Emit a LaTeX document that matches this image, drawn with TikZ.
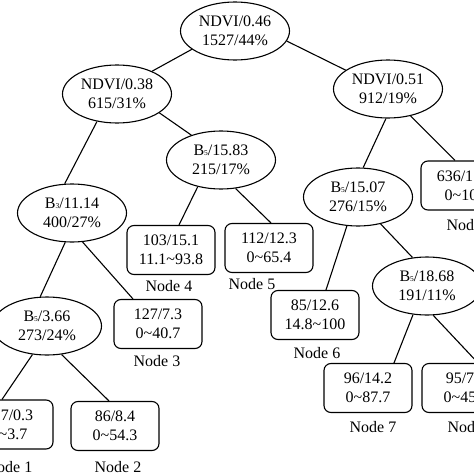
\documentclass[tikz,border=0pt]{standalone}
\usepackage{fontspec}
\setmainfont{Liberation Serif}
\usetikzlibrary{shapes.geometric}
\newcommand{\Bsb}[1]{B\raisebox{0.3pt}{\fontsize{7.5}{7.5}\selectfont #1}}
\newcommand{\tld}{\textasciitilde}
\begin{document}
\begin{tikzpicture}[x=1pt,y=-1pt,
  txt/.style={font=\fontsize{16}{19}\selectfont},
  split/.style={txt, ellipse, draw, line width=1.1pt, minimum width=109pt, minimum height=58pt, inner sep=0pt, align=center},
  leaf/.style={txt, rectangle, rounded corners=7pt, draw, line width=1.1pt, minimum width=88pt, minimum height=49pt, inner sep=0pt, align=center},
  lab/.style={txt, inner sep=0pt},
  conn/.style={line width=1.1pt}]
\useasboundingbox (0,0) rectangle (474,474);
\clip (0,0) rectangle (474,474);
\fill[white] (0,0) rectangle (474,474);
% split nodes
\node[split] (root)  at (235,31)  {NDVI/0.46\\1527/44\%};
\node[split] (n038)  at (117,94)  {NDVI/0.38\\615/31\%};
\node[split] (n051)  at (388,89)  {NDVI/0.51\\912/19\%};
\node[split] (b1583) at (221,160) {\Bsb{5}/15.83\\215/17\%};
\node[split] (b1114) at (72,213)  {\Bsb{3}/11.14\\400/27\%};
\node[split] (b1507) at (358,197) {\Bsb{5}/15.07\\276/15\%};
\node[split] (b1868) at (427,286) {\Bsb{5}/18.68\\191/11\%};
\node[split] (b366)  at (47,326)  {\Bsb{5}/3.66\\273/24\%};
% leaves
\node[leaf] (n4) at (171,250) {103/15.1\\11.1\tld93.8};
\node[leaf] (n5) at (269,248) {112/12.3\\0\tld65.4};
\node[leaf] (n9) at (465,185.5) {636/1\hphantom{5.8}\\0\tld10\hphantom{0}};
\node[leaf] (n6) at (315,315) {85/12.6\\14.8\tld100};
\node[leaf] (n3) at (158,324) {127/7.3\\0\tld40.7};
\node[leaf] (n1) at (9,424.5) {\hphantom{18}7/0.3\\\hphantom{0}\tld3.7};
\node[leaf] (n2) at (115,426) {86/8.4\\0\tld54.3};
\node[leaf] (n7) at (368,388) {96/14.2\\0\tld87.7};
\node[leaf] (n8) at (466,388) {95/7\hphantom{.8}\\0\tld45\hphantom{.8}};
% labels
\node[lab] (l4) at (169,286) {Node 4};
\node[lab] (l5) at (252,284) {Node 5};
\node[lab] (l9) at (470,225) {Node 9};
\node[lab] (l6) at (317,353) {Node 6};
\node[lab] (l3) at (157,361) {Node 3};
\node[lab] (l1) at (9,467)   {Node 1};
\node[lab] (l2) at (118,467) {Node 2};
\node[lab] (l7) at (373,427) {Node 7};
\node[lab] (l8) at (471,427) {Node 8};
% connectors
\draw[conn] (root.203) -- (n038.33);
\draw[conn] (root.349) -- (n051.156);
\draw[conn] (n038.234) -- (b1114.104);
\draw[conn] (n038.336) -- (b1583.140);
\draw[conn] (n051.266) -- (b1507.80);
\draw[conn] (n051.310) -- ([xshift=-10pt]n9.north);
\draw[conn] (b1583.229) -- ([xshift=8pt]n4.north);
\draw[conn] (b1583.297) -- ([xshift=2pt]n5.north);
\draw[conn] (b1114.257) -- (b366.103);
\draw[conn] (b1114.290) -- ([xshift=-25pt]n3.north);
\draw[conn] (b1507.249) -- ([xshift=11pt]n6.north);
\draw[conn] (b1507.310) -- (b1868.117);
\draw[conn] (b366.243) -- ([xshift=-7pt]n1.north);
\draw[conn] (b366.297) -- ([xshift=-6pt]n2.north);
\draw[conn] (b1868.244) -- ([xshift=26pt]n7.north);
\draw[conn] (b1868.282) -- ([xshift=12pt]n8.north);
\end{tikzpicture}
\end{document}
